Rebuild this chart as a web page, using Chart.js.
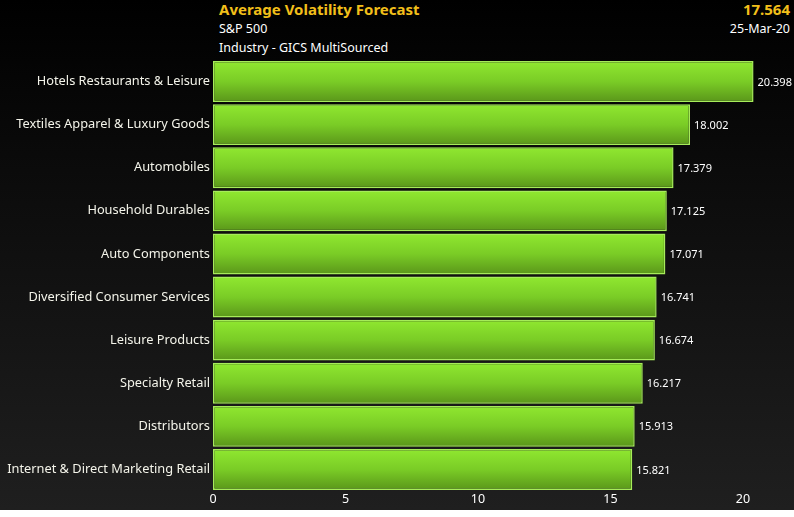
<!DOCTYPE html>
<html>
<head>
<meta charset="utf-8">
<script src="https://cdn.jsdelivr.net/npm/chart.js@4"></script>
<style>
  body { margin: 0; background: #fff; }
  #wrap { position: relative; width: 794px; height: 510px;
          background: linear-gradient(#000 0%, #0a0a0a 30%, #1f1f1f 100%);
          font-family: "Noto Sans", sans-serif; }
  .t { position: absolute; white-space: nowrap; color: #fff; font-size: 12.5px; }
  .gold { color: #f2bf1a; font-weight: bold; font-size: 15px; }
  canvas { position: absolute; left: 0; top: 0; }
</style>
</head>
<body>
<div id="wrap">
  <div class="t gold" style="left:219px; top:-1px;">Average Volatility Forecast</div>
  <div class="t gold" style="right:4px; top:-1px;">17.564</div>
  <div class="t" style="left:219px; top:20px;">S&amp;P 500</div>
  <div class="t" style="right:4px; top:20px;">25-Mar-20</div>
  <div class="t" style="left:219px; top:39px;">Industry - GICS MultiSourced</div>
  <canvas id="myChart" width="794" height="510"></canvas>
</div>
<script>
const categories = [
  'Hotels Restaurants & Leisure',
  'Textiles Apparel & Luxury Goods',
  'Automobiles',
  'Household Durables',
  'Auto Components',
  'Diversified Consumer Services',
  'Leisure Products',
  'Specialty Retail',
  'Distributors',
  'Internet & Direct Marketing Retail'
];
const volatility = [20.398, 18.002, 17.379, 17.125, 17.071, 16.741, 16.674, 16.217, 15.913, 15.821];
const xTicks = [0, 5, 10, 15, 20];

const BAR_H = 41;
const FONT = '"Noto Sans", sans-serif';

// gradient per bar, lighter on top
function barFill(ctx) {
  const chart = ctx.chart;
  const y = chart.scales.y;
  if (!y || ctx.dataIndex === undefined) return '#74c224';
  const c = y.getPixelForValue(ctx.dataIndex);
  if (!isFinite(c)) return '#74c224';
  const g = chart.ctx.createLinearGradient(0, c - BAR_H / 2, 0, c + BAR_H / 2);
  g.addColorStop(0, '#90e830');
  g.addColorStop(0.5, '#7acc26');
  g.addColorStop(1, '#5a961a');
  return g;
}

const valueLabels = {
  id: 'valueLabels',
  afterDatasetsDraw(chart) {
    const c = chart.ctx;
    const meta = chart.getDatasetMeta(0);
    c.save();
    c.fillStyle = '#ffffff';
    c.font = '11px ' + FONT;
    c.textBaseline = 'middle';
    meta.data.forEach((bar, i) => {
      c.fillText(volatility[i].toFixed(3), bar.x + 4, bar.y + 1);
    });
    c.restore();
  }
};

new Chart(document.getElementById('myChart'), {
  type: 'bar',
  data: {
    labels: categories,
    datasets: [{
      data: volatility,
      backgroundColor: barFill,
      borderColor: '#a6ec5a',
      borderWidth: 1.5,
      borderSkipped: false,
      barPercentage: 0.95,
      categoryPercentage: 1.0,
      clip: false
    }]
  },
  options: {
    indexAxis: 'y',
    responsive: false,
    animation: false,
    layout: { padding: { top: 60, right: 51, bottom: 0, left: 0 } },
    plugins: { legend: { display: false }, tooltip: { enabled: false } },
    scales: {
      x: {
        min: 0,
        max: 20,
        afterBuildTicks(axis) { axis.ticks = xTicks.map(v => ({ value: v })); },
        afterFit(axis) { axis.height = 19; },
        grid: { display: false, drawTicks: false },
        border: { display: false },
        ticks: { color: '#ffffff', padding: 1, font: { size: 12.5, family: FONT } }
      },
      y: {
        afterFit(axis) { axis.width = 213; },
        grid: { display: false, drawTicks: false },
        border: { display: false },
        ticks: { color: '#f4f4ea', padding: 3, font: { size: 12.8, family: FONT } }
      }
    }
  },
  plugins: [valueLabels]
});
</script>
</body>
</html>
